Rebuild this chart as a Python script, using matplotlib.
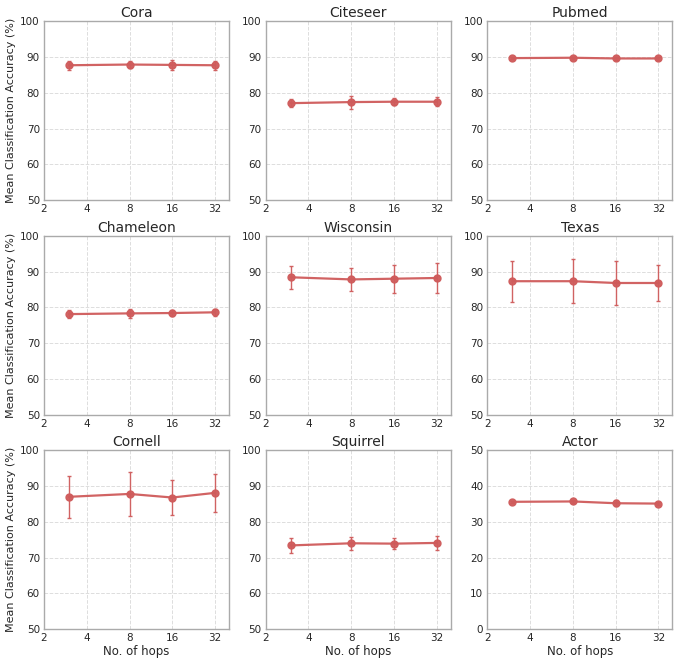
import matplotlib
matplotlib.use("Agg")
import matplotlib.pyplot as plt
from matplotlib.ticker import FixedLocator, FixedFormatter, NullLocator

plt.rcParams["font.family"] = ["DejaVu Sans"]

hops = [3, 8, 16, 32]
datasets = ["Cora", "Citeseer", "Pubmed",
            "Chameleon", "Wisconsin", "Texas",
            "Cornell", "Squirrel", "Actor"]

cora_mean = [87.7, 87.9, 87.8, 87.7]
cora_std = [1.3, 1.0, 1.4, 1.2]
citeseer_mean = [77.1, 77.4, 77.5, 77.5]
citeseer_std = [1.2, 1.8, 1.0, 1.3]
pubmed_mean = [89.7, 89.8, 89.6, 89.6]
pubmed_std = [0.3, 0.3, 0.3, 0.3]
chameleon_mean = [78.1, 78.3, 78.4, 78.6]
chameleon_std = [1.2, 1.2, 0.8, 0.9]
wisconsin_mean = [88.4, 87.8, 88.0, 88.2]
wisconsin_std = [3.2, 3.3, 3.9, 4.1]
texas_mean = [87.3, 87.3, 86.8, 86.8]
texas_std = [5.7, 6.2, 6.2, 4.9]
cornell_mean = [87.0, 87.8, 86.8, 88.1]
cornell_std = [5.8, 6.2, 5.0, 5.4]
squirrel_mean = [73.4, 74.0, 73.9, 74.1]
squirrel_std = [2.1, 1.8, 1.6, 1.9]
actor_mean = [35.6, 35.7, 35.2, 35.1]
actor_std = [0.3, 0.5, 0.8, 0.5]

means = [cora_mean, citeseer_mean, pubmed_mean, chameleon_mean, wisconsin_mean,
         texas_mean, cornell_mean, squirrel_mean, actor_mean]
stds = [cora_std, citeseer_std, pubmed_std, chameleon_std, wisconsin_std,
        texas_std, cornell_std, squirrel_std, actor_std]

xticks = [2, 4, 8, 16, 32]
color = "#cf5b5b"
text_color = "#262626"

fig, axes = plt.subplots(3, 3, figsize=(6.77, 6.65), dpi=100)
plt.subplots_adjust(left=0.065, right=0.993, bottom=0.054, top=0.968,
                    wspace=0.2, hspace=0.2)

for i, ax in enumerate(axes.flat):
    ax.errorbar(hops, means[i], yerr=stds[i], color=color, lw=1.6, marker="o",
                ms=5, capsize=1.5, elinewidth=1.0, ecolor=color, alpha=0.95)
    ax.set_xscale("log", base=2)
    ax.set_xlim(2, 40)
    ax.xaxis.set_major_locator(FixedLocator(xticks))
    ax.xaxis.set_major_formatter(FixedFormatter([str(t) for t in xticks]))
    ax.xaxis.set_minor_locator(NullLocator())
    if datasets[i] == "Actor":
        ax.set_ylim(0, 50)
        ax.set_yticks(range(0, 51, 10))
    else:
        ax.set_ylim(50, 100)
        ax.set_yticks(range(50, 101, 10))
    ax.set_title(datasets[i], fontsize=10, color=text_color, pad=3)
    ax.grid(True, ls="--", color="#dddddd", lw=0.7)
    ax.set_axisbelow(True)
    for s in ax.spines.values():
        s.set_color("#aaaaaa")
        s.set_linewidth(1.0)
    ax.tick_params(length=0, pad=3, labelsize=7.5, colors=text_color)
    if i % 3 == 0:
        ax.set_ylabel("Mean Classification Accuracy (%)", fontsize=8,
                      color=text_color, labelpad=3)
    if i >= 6:
        ax.set_xlabel("No. of hops", fontsize=8.5, color=text_color, labelpad=1)

plt.savefig("out.png", dpi=100)
